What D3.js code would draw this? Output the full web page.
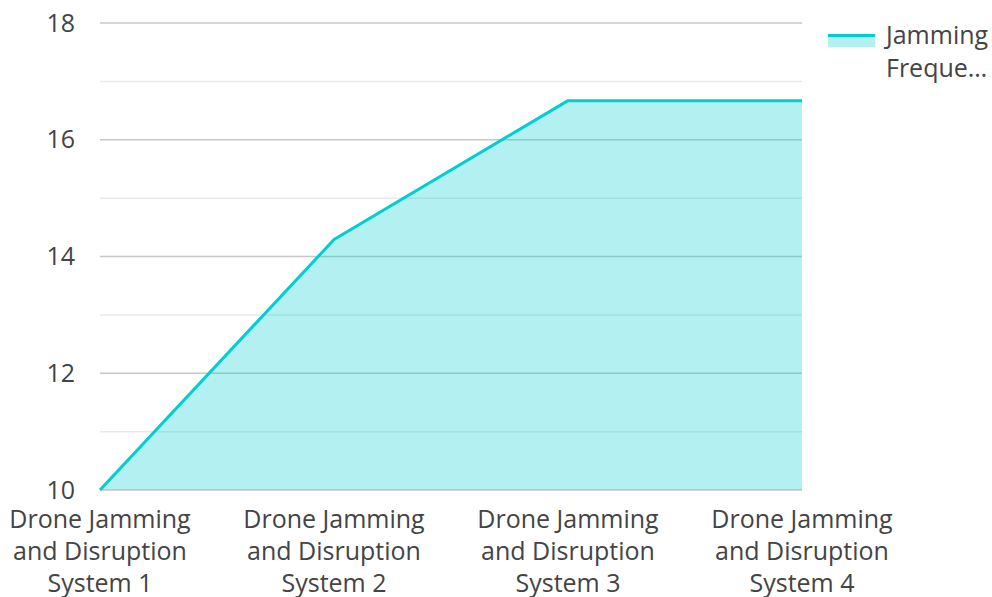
<!DOCTYPE html>
<html>
<head>
<meta charset="utf-8">
<script src="https://cdn.jsdelivr.net/npm/d3@7"></script>
<style>
  body { margin: 0; background: #fff; }
  svg text { font-family: "Open Sans", "Noto Sans", sans-serif; fill: #444; }
</style>
</head>
<body>
<div id="chart"></div>
<script>
var categories = [
  'Drone Jamming and Disruption System 1',
  'Drone Jamming and Disruption System 2',
  'Drone Jamming and Disruption System 3',
  'Drone Jamming and Disruption System 4'
];
var jammingFrequency = [10, 14.29, 16.67, 16.67];
var yTicks = [10, 12, 14, 16, 18];
var seriesName = 'Jamming Frequency';

var width = 992, height = 597;
var margin = { top: 23, right: 190, bottom: 107, left: 100 };
var lineColor = '#00ced1';

var svg = d3.select('#chart').append('svg')
  .attr('width', width)
  .attr('height', height);

var x = d3.scalePoint()
  .domain(categories)
  .range([margin.left, width - margin.right]);

var y = d3.scaleLinear()
  .domain([10, 18])
  .range([height - margin.bottom, margin.top]);

// gridlines: majors darker, minors lighter
var gridVals = d3.range(10, 18.001, 1);
svg.append('g').selectAll('line')
  .data(gridVals)
  .enter().append('line')
  .attr('x1', margin.left)
  .attr('x2', width - margin.right)
  .attr('y1', function (d) { return y(d); })
  .attr('y2', function (d) { return y(d); })
  .attr('stroke', function (d) { return d % 2 === 0 ? '#c8c8c8' : '#e9e9e9'; })
  .attr('stroke-width', 1.5);

// y axis labels
var gy = svg.append('g')
  .attr('transform', 'translate(' + margin.left + ',0)')
  .call(d3.axisLeft(y).tickValues(yTicks).tickSize(0).tickPadding(25));
gy.select('.domain').remove();
gy.selectAll('text')
  .style('font-size', '25px')
  .attr('fill', '#444');

var data = categories.map(function (c, i) { return { name: c, value: jammingFrequency[i] }; });

var area = d3.area()
  .x(function (d) { return x(d.name); })
  .y0(y(10))
  .y1(function (d) { return y(d.value); });

var line = d3.line()
  .x(function (d) { return x(d.name); })
  .y(function (d) { return y(d.value); });

svg.append('path')
  .attr('d', area(data))
  .attr('fill', lineColor)
  .attr('fill-opacity', 0.3);

svg.append('path')
  .attr('d', line(data))
  .attr('fill', 'none')
  .attr('stroke', lineColor)
  .attr('stroke-width', 3)
  .attr('stroke-linejoin', 'round');

// x axis labels, wrapped
var xLines = [
  function (c) { return 'Drone Jamming'; },
  function (c) { return 'and Disruption'; },
  function (c) { return c.replace('Drone Jamming and Disruption ', ''); }
];
var gx = svg.append('g');
categories.forEach(function (c) {
  var t = gx.append('text')
    .attr('text-anchor', 'middle')
    .style('font-size', '25px')
    .attr('fill', '#333');
  xLines.forEach(function (f, i) {
    t.append('tspan')
      .attr('x', x(c))
      .attr('y', height - margin.bottom + 38 + i * 32)
      .text(f(c));
  });
});

// legend
var lg = svg.append('g').attr('transform', 'translate(828,34)');
lg.append('rect')
  .attr('x', 0).attr('y', 0)
  .attr('width', 47).attr('height', 13)
  .attr('fill', lineColor)
  .attr('fill-opacity', 0.3);
lg.append('line')
  .attr('x1', 0).attr('x2', 47)
  .attr('y1', 1.5).attr('y2', 1.5)
  .attr('stroke', lineColor)
  .attr('stroke-width', 3);
var lt = lg.append('text')
  .style('font-size', '25px')
  .attr('fill', '#333');
lt.append('tspan').attr('x', 58).attr('y', 10).text('Jamming');
lt.append('tspan').attr('x', 58).attr('y', 43).text('Freque\u2026');
</script>
</body>
</html>
